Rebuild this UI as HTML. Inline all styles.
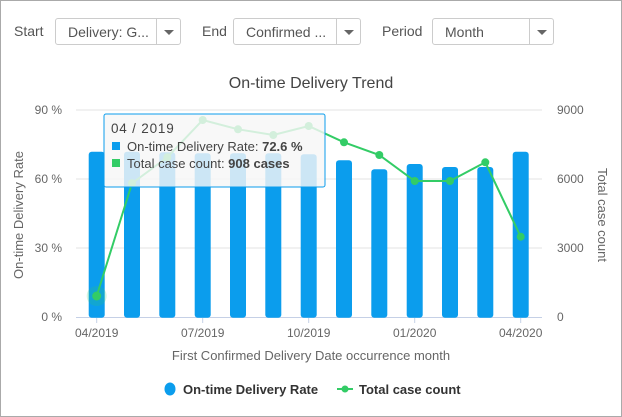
<!DOCTYPE html>
<html><head><meta charset="utf-8"><style>
html,body{margin:0;padding:0;background:#fff}
body{width:622px;height:417px;position:relative;overflow:hidden;font-family:"Liberation Sans",sans-serif;color:#555}
.frame{position:absolute;left:0;top:0;width:620px;height:415px;border:1px solid #aaa}
.lbl{position:absolute;top:23px;font-size:14px;color:#555}
.dd{position:absolute;top:18px;border:1px solid #ccc;border-radius:3px;font-size:14px;color:#555;line-height:26px;box-sizing:border-box;height:27px}
.dd span{position:absolute;left:12px;top:0}
.dd i{position:absolute;top:0;bottom:0;border-left:1px solid #ccc;width:23px;right:0}
.dd i:after{content:"";position:absolute;left:7px;top:11px;border-left:5px solid transparent;border-right:5px solid transparent;border-top:5px solid #666}
</style></head><body>
<div class="frame"></div>
<div class="lbl" style="left:14px">Start</div>
<div class="dd" style="left:55px;width:126px"><span>Delivery: G...</span><i></i></div>
<div class="lbl" style="left:202px">End</div>
<div class="dd" style="left:233px;width:128px"><span>Confirmed ...</span><i></i></div>
<div class="lbl" style="left:382px">Period</div>
<div class="dd" style="left:432px;width:122px"><span>Month</span><i></i></div>
<svg width="622" height="417" style="position:absolute;left:0;top:0" font-family="Liberation Sans, sans-serif">
<text x="311" y="88" text-anchor="middle" font-size="16" fill="#444">On-time Delivery Trend</text>
<g stroke="#e3e3e3" stroke-width="1">
<line x1="76" x2="542" y1="110" y2="110"/><line x1="76" x2="542" y1="179" y2="179"/><line x1="76" x2="542" y1="248" y2="248"/>
</g>
<line x1="76" x2="542" y1="317.5" y2="317.5" stroke="#c5d0e6"/>
<g stroke="#c5d0e6"><line x1="96.7" x2="96.7" y1="317" y2="323"/><line x1="202.7" x2="202.7" y1="317" y2="323"/><line x1="308.7" x2="308.7" y1="317" y2="323"/><line x1="414.7" x2="414.7" y1="317" y2="323"/><line x1="520.7" x2="520.7" y1="317" y2="323"/></g>
<g font-size="12" fill="#666" text-anchor="end">
<text x="62" y="114">90 %</text><text x="62" y="183">60 %</text><text x="62" y="252">30 %</text><text x="62" y="321">0 %</text>
</g>
<g font-size="12" fill="#666" text-anchor="start">
<text x="557" y="114">9000</text><text x="557" y="183">6000</text><text x="557" y="252">3000</text><text x="557" y="321">0</text>
</g>
<g font-size="12" fill="#666" text-anchor="middle">
<text x="96.7" y="337">04/2019</text><text x="202.7" y="337">07/2019</text><text x="308.7" y="337">10/2019</text><text x="414.7" y="337">01/2020</text><text x="520.7" y="337">04/2020</text>
</g>
<text x="311" y="360" text-anchor="middle" font-size="13" fill="#666">First Confirmed Delivery Date occurrence month</text>
<text transform="translate(23,215) rotate(-90)" text-anchor="middle" font-size="13" fill="#666">On-time Delivery Rate</text>
<text transform="translate(598,215) rotate(90)" text-anchor="middle" font-size="13" fill="#666">Total case count</text>
<g fill="#0b9ded">
<rect x="88.7" y="151.7" width="16" height="166" rx="3"/>
<rect x="124" y="151.7" width="16" height="166" rx="3"/>
<rect x="159.3" y="152.3" width="16" height="165.4" rx="3"/>
<rect x="194.7" y="153.3" width="16" height="164.4" rx="3"/>
<rect x="230" y="153.3" width="16" height="164.4" rx="3"/>
<rect x="265.3" y="153.3" width="16" height="164.4" rx="3"/>
<rect x="300.7" y="154.3" width="16" height="163.4" rx="3"/>
<rect x="336" y="160.3" width="16" height="157.4" rx="3"/>
<rect x="371.3" y="169.3" width="16" height="148.4" rx="3"/>
<rect x="406.7" y="164" width="16" height="153.7" rx="3"/>
<rect x="442" y="167" width="16" height="150.7" rx="3"/>
<rect x="477.3" y="167" width="16" height="150.7" rx="3"/>
<rect x="512.7" y="151.7" width="16" height="166" rx="3"/>
</g>
<polyline fill="none" stroke="#33cc66" stroke-width="2" points="96.7,296 132,183.3 167.3,157.3 202.7,120 238,129.3 273.3,135 308.7,126 344,142.3 379.3,155 414.7,181 450,181 485.3,162.3 520.7,236.7"/>
<circle cx="96.7" cy="296" r="10" fill="#33cc66" opacity="0.2"/>
<g fill="#33cc66">
<circle cx="96.7" cy="296" r="4.5"/><circle cx="132" cy="183.3" r="4"/><circle cx="167.3" cy="157.3" r="4"/><circle cx="202.7" cy="120" r="4"/><circle cx="238" cy="129.3" r="4"/><circle cx="273.3" cy="135" r="4"/><circle cx="308.7" cy="126" r="4"/><circle cx="344" cy="142.3" r="4"/><circle cx="379.3" cy="155" r="4"/><circle cx="414.7" cy="181" r="4"/><circle cx="450" cy="181" r="4"/><circle cx="485.3" cy="162.3" r="4"/><circle cx="520.7" cy="236.7" r="4"/>
</g>
<rect x="104" y="114" width="221" height="73" rx="2" fill="#f7f7f7" fill-opacity="0.82" stroke="#0b9ded" stroke-width="1"/>
<text x="111" y="133" font-size="13.5" fill="#444" letter-spacing="0.8">04 / 2019</text>
<rect x="112" y="142" width="8" height="8" fill="#0b9ded"/>
<text x="127" y="151" font-size="13" fill="#444">On-time Delivery Rate: <tspan font-weight="bold">72.6 %</tspan></text>
<rect x="112" y="159" width="8" height="8" fill="#33cc66"/>
<text x="127" y="168" font-size="13" fill="#444">Total case count: <tspan font-weight="bold">908 cases</tspan></text>
<ellipse cx="170" cy="389" rx="5.5" ry="6.5" fill="#0b9ded"/>
<text x="183" y="394" font-size="13" font-weight="bold" fill="#333">On-time Delivery Rate</text>
<line x1="337" x2="353" y1="389" y2="389" stroke="#33cc66" stroke-width="2"/>
<circle cx="345" cy="389" r="3.5" fill="#33cc66"/>
<text x="359" y="394" font-size="13" font-weight="bold" fill="#333">Total case count</text>
</svg>
</body></html>
